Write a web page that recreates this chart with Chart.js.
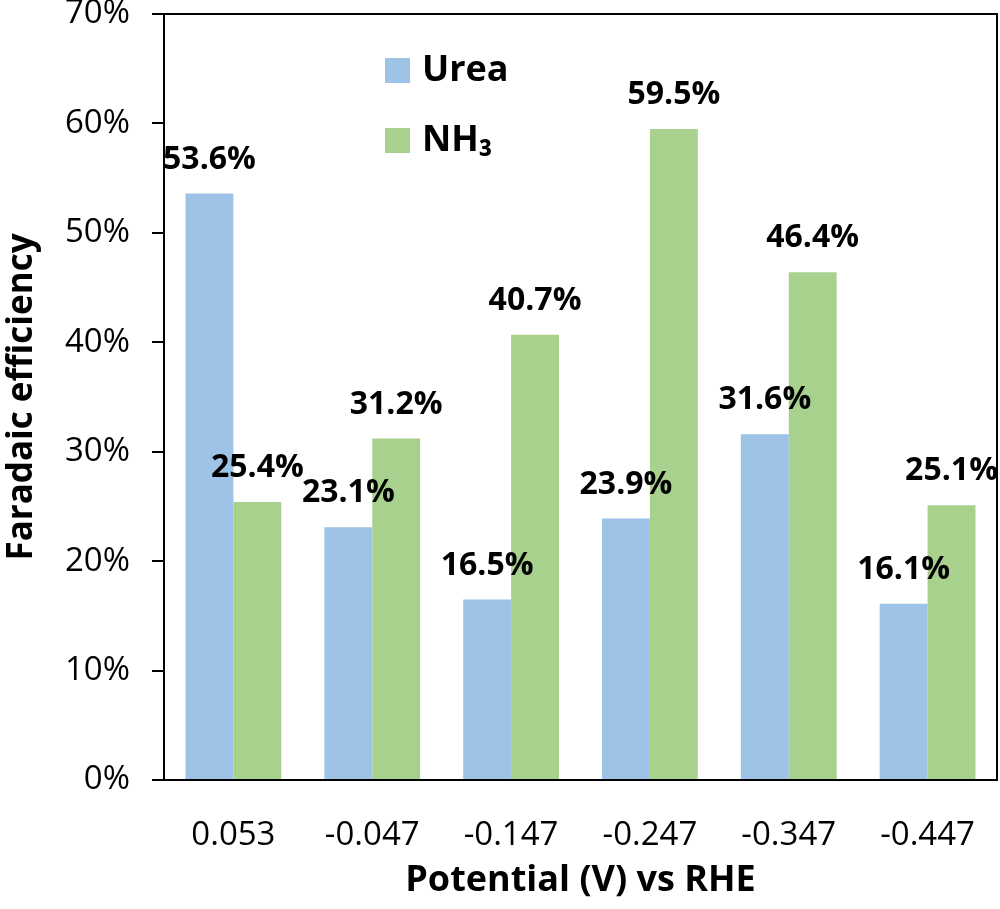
<!DOCTYPE html>
<html>
<head>
<meta charset="utf-8">
<script src="https://cdn.jsdelivr.net/npm/chart.js@4.4.1/dist/chart.umd.min.js"></script>
<style>
  html, body { margin: 0; padding: 0; background: #fff; }
  #wrap { width: 1000px; height: 909px; }
</style>
</head>
<body>
<div id="wrap"><canvas id="feChart" width="1000" height="909"></canvas></div>
<script>
// dati
var potentials = ['0.053', '-0.047', '-0.147', '-0.247', '-0.347', '-0.447'];
var ureaValues = [53.6, 23.1, 16.5, 23.9, 31.6, 16.1];
var nh3Values = [25.4, 31.2, 40.7, 59.5, 46.4, 25.1];
var seriesNames = ['Urea', 'NH\u2083'];

var fontFamily = '"Open Sans", "DejaVu Sans", sans-serif';

// etichette con il valore sopra ogni barra
var valueLabels = {
  id: 'valueLabels',
  afterDatasetsDraw: function(chart) {
    var ctx = chart.ctx;
    ctx.save();
    ctx.font = 'bold 32px ' + fontFamily;
    ctx.fillStyle = '#000';
    ctx.textAlign = 'center';
    ctx.textBaseline = 'middle';
    chart.data.datasets.forEach(function(ds, i) {
      var meta = chart.getDatasetMeta(i);
      meta.data.forEach(function(bar, j) {
        ctx.fillText(ds.data[j].toFixed(1) + '%', bar.x, bar.y - 34);
      });
    });
    ctx.restore();
  }
};

// bordo superiore e destro + legenda dentro il grafico
var boxAndLegend = {
  id: 'boxAndLegend',
  afterDraw: function(chart) {
    var ctx = chart.ctx;
    var a = chart.chartArea;
    ctx.save();
    ctx.strokeStyle = '#000';
    ctx.lineWidth = 2;
    ctx.beginPath();
    ctx.moveTo(a.left, a.top);
    ctx.lineTo(a.right, a.top);
    ctx.lineTo(a.right, a.bottom);
    ctx.stroke();

    var lx = a.left + 221;
    var ly = a.top + 44;
    ctx.font = 'bold 36px ' + fontFamily;
    ctx.textBaseline = 'middle';
    ctx.textAlign = 'left';
    chart.data.datasets.forEach(function(ds, i) {
      var y = ly + i * 70;
      ctx.fillStyle = ds.backgroundColor;
      ctx.fillRect(lx, y, 25, 25);
      ctx.fillStyle = '#000';
      ctx.fillText(ds.label, lx + 37, y + 13);
    });
    ctx.restore();
  }
};

var ctx = document.getElementById('feChart');
var myChart = new Chart(ctx, {
  type: 'bar',
  data: {
    labels: potentials,
    datasets: [{
      label: seriesNames[0],
      data: ureaValues,
      backgroundColor: '#9dc3e6',
      borderWidth: 0,
      categoryPercentage: 0.69,
      barPercentage: 1.0
    }, {
      label: seriesNames[1],
      data: nh3Values,
      backgroundColor: '#a9d18e',
      borderWidth: 0,
      categoryPercentage: 0.69,
      barPercentage: 1.0
    }]
  },
  options: {
    responsive: false,
    animation: false,
    layout: { padding: { top: 14, right: 3, left: 0, bottom: 0 } },
    plugins: {
      legend: { display: false },
      tooltip: { enabled: false }
    },
    scales: {
      x: {
        grid: { display: false },
        border: { display: true, color: '#000', width: 2 },
        ticks: {
          color: '#000',
          padding: 28,
          font: { family: fontFamily, size: 33 }
        },
        title: {
          display: true,
          text: 'Potential (V) vs RHE',
          color: '#000',
          padding: { top: 0, bottom: 7 },
          font: { family: fontFamily, size: 36, weight: 'bold' }
        },
        afterFit: function(scale) {
          scale.height = 129;
          scale.paddingLeft = 0;
          scale.paddingRight = 0;
        }
      },
      y: {
        min: 0,
        max: 70,
        ticks: {
          stepSize: 10,
          color: '#000',
          padding: 22,
          font: { family: fontFamily, size: 33 },
          callback: function(v) { return v + '%'; }
        },
        grid: {
          drawOnChartArea: false,
          drawTicks: true,
          tickLength: 12,
          color: '#000',
          lineWidth: 2
        },
        border: { display: true, color: '#000', width: 2 },
        title: {
          display: true,
          text: 'Faradaic efficiency',
          color: '#000',
          padding: { top: 1, bottom: 0 },
          font: { family: fontFamily, size: 35, weight: 'bold' }
        },
        afterFit: function(scale) {
          scale.width = 164;
          scale.paddingTop = 0;
          scale.paddingBottom = 0;
        }
      }
    }
  },
  plugins: [valueLabels, boxAndLegend]
});
</script>
</body>
</html>
